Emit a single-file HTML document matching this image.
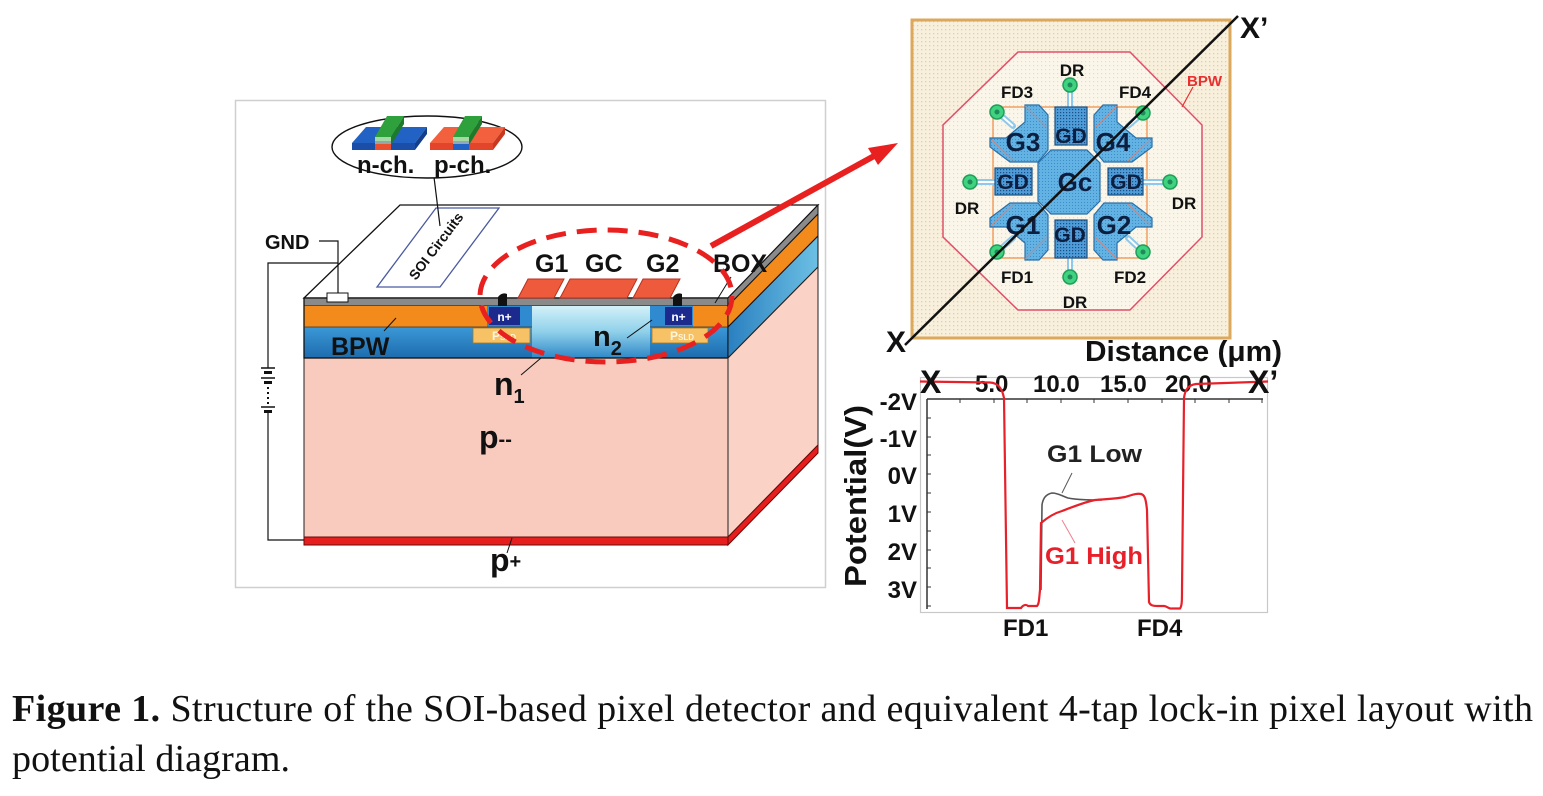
<!DOCTYPE html>
<html><head><meta charset="utf-8"><style>
html,body{margin:0;padding:0;background:#fff;}
svg{display:block;}
</style></head><body>
<svg width="1543" height="796" viewBox="0 0 1543 796" xmlns="http://www.w3.org/2000/svg" font-family="Liberation Sans, Arial, sans-serif">
<defs>
<pattern id="dots" width="4" height="4" patternUnits="userSpaceOnUse"><rect width="4" height="4" fill="#f8f0dc"/><rect x="1" y="1" width="1.3" height="1.3" fill="#e2cf9f"/></pattern>
<pattern id="dots2" width="4" height="4" patternUnits="userSpaceOnUse"><rect width="4" height="4" fill="#fbf6ea"/><rect x="1" y="1" width="1.2" height="1.2" fill="#eadcb8"/></pattern>
<pattern id="bdots" width="3" height="3" patternUnits="userSpaceOnUse"><rect width="3" height="3" fill="#62b2e4"/><rect x="1" y="1" width="1" height="1" fill="#3e8cc8"/></pattern>
<pattern id="gdots" width="3" height="3" patternUnits="userSpaceOnUse"><rect width="3" height="3" fill="#4e9cd8"/><rect x="1" y="1" width="1.2" height="1.2" fill="#1d4f86"/></pattern>
<linearGradient id="blueG" x1="0" y1="0" x2="0" y2="1"><stop offset="0" stop-color="#3b98d6"/><stop offset="1" stop-color="#1d6cae"/></linearGradient>
<linearGradient id="n2G" x1="0" y1="0" x2="0" y2="1"><stop offset="0" stop-color="#d2f1f8"/><stop offset="0.5" stop-color="#8fd0ea"/><stop offset="1" stop-color="#2f88c8"/></linearGradient>
<linearGradient id="sideBlue" x1="0" y1="0" x2="1" y2="0"><stop offset="0" stop-color="#2a80c0"/><stop offset="1" stop-color="#6cc0e4"/></linearGradient>
</defs>
<rect width="1543" height="796" fill="#fff"/>

<!-- ===== LEFT PANEL ===== -->
<rect x="235.5" y="100.5" width="590" height="487" fill="#fff" stroke="#cfcfcf" stroke-width="1.5"/>

<!-- top face -->
<polygon points="304,298 400,205 818,205 728,298" fill="#fff" stroke="#111" stroke-width="1.3"/>
<!-- SOI circuits -->
<polygon points="377,287 436,208 499,208 440,287" fill="none" stroke="#4a5aa0" stroke-width="1.3"/>
<text transform="translate(440,249) rotate(-53)" text-anchor="middle" font-size="14" font-weight="bold" fill="#111">SOI Circuits</text>
<line x1="434" y1="177" x2="440" y2="226" stroke="#111" stroke-width="1.2"/>

<!-- callout ellipse -->
<ellipse cx="427" cy="147" rx="95" ry="31" fill="#fff" stroke="#111" stroke-width="1.4"/>
<!-- n-ch icon -->
<polygon points="352,143 366,127 427,127 415,143" fill="#2262c4"/>
<rect x="352" y="143" width="63" height="7" fill="#1a4ea8"/>
<polygon points="415,143 427,127 427,134 415,150" fill="#123f8c"/>
<polygon points="375,137 387,116 404,116 391,137" fill="#2ea03c"/>
<polygon points="391,137 404,116 404,124 391,145" fill="#1c7a2a"/>
<rect x="375" y="137" width="16" height="4" fill="#a6d8a6"/>
<rect x="375" y="141" width="16" height="3" fill="#90a8a8"/>
<rect x="375" y="144" width="16" height="6" fill="#e8502e"/>
<!-- p-ch icon -->
<polygon points="430,143 444,127 505,127 493,143" fill="#f2603e"/>
<rect x="430" y="143" width="63" height="7" fill="#e2452a"/>
<polygon points="493,143 505,127 505,134 493,150" fill="#c8371e"/>
<polygon points="453,137 465,116 482,116 469,137" fill="#2ea03c"/>
<polygon points="469,137 482,116 482,124 469,145" fill="#1c7a2a"/>
<rect x="453" y="137" width="16" height="4" fill="#a6d8a6"/>
<rect x="453" y="141" width="16" height="3" fill="#90a8b8"/>
<rect x="453" y="144" width="16" height="6" fill="#2262c4"/>
<text x="357" y="173" font-size="24" font-weight="bold" fill="#111">n-ch.</text>
<text x="434" y="173" font-size="24" font-weight="bold" fill="#111">p-ch.</text>

<!-- front layers -->
<rect x="304" y="298" width="424" height="8" fill="#8a8a8a" stroke="#111" stroke-width="1"/>
<rect x="304" y="306" width="424" height="21" fill="#f28a1c"/>
<rect x="304" y="327" width="424" height="31" fill="url(#blueG)"/>
<rect x="532" y="306" width="118" height="52" fill="url(#n2G)"/>
<!-- n+ left -->
<rect x="487" y="306" width="45" height="21" fill="#2f8ad0"/>
<rect x="489" y="307" width="31" height="18" fill="#1b2a8c"/>
<text x="504.5" y="321" text-anchor="middle" font-size="12" font-weight="bold" fill="#fff">n+</text>
<!-- n+ right -->
<rect x="650" y="306" width="43" height="21" fill="#2f8ad0"/>
<rect x="665" y="307" width="27" height="18" fill="#1b2a8c"/>
<text x="678.5" y="321" text-anchor="middle" font-size="12" font-weight="bold" fill="#fff">n+</text>
<!-- Psld -->
<rect x="473" y="328" width="57" height="15" fill="#f7c266" stroke="#a07a30" stroke-width="0.8"/>
<text x="492" y="340" font-size="12" font-weight="bold" fill="#fff5d8">P<tspan font-size="8">SLD</tspan></text>
<rect x="652" y="328" width="56" height="15" fill="#f7c266" stroke="#a07a30" stroke-width="0.8"/>
<text x="670" y="340" font-size="12" font-weight="bold" fill="#fff5d8">P<tspan font-size="8">SLD</tspan></text>
<!-- pink body -->
<rect x="304" y="358" width="424" height="179" fill="#f9cbbf" stroke="#222" stroke-width="1"/>
<rect x="304" y="537" width="424" height="8" fill="#e61e1e" stroke="#6a0a0a" stroke-width="1"/>
<rect x="304" y="298" width="424" height="60" fill="none" stroke="#111" stroke-width="1.3"/>
<line x1="304" y1="327" x2="532" y2="327" stroke="#333" stroke-width="0.8"/>
<line x1="650" y1="327" x2="728" y2="327" stroke="#333" stroke-width="0.8"/>

<!-- side face -->
<polygon points="728,298 818,205 818,214 728,306" fill="#8a8a8a" stroke="#111" stroke-width="1"/>
<polygon points="728,306 818,214 818,236 728,327" fill="#f28a1c" stroke="#111" stroke-width="1"/>
<polygon points="728,327 818,236 818,267 728,358" fill="url(#sideBlue)" stroke="#111" stroke-width="1"/>
<polygon points="728,358 818,267 818,445 728,537" fill="#fad2c6" stroke="#222" stroke-width="1"/>
<polygon points="728,537 818,445 818,453 728,545" fill="#e61e1e" stroke="#6a0a0a" stroke-width="1"/>

<!-- contacts and gates -->
<path d="M498,306 L498,297 Q502,292 507,294 L507,306 Z" fill="#111"/>
<path d="M673,306 L673,297 Q677,292 682,294 L682,306 Z" fill="#111"/>
<polygon points="518,298 528,279 564,279 554,298" fill="#ee5a3c" stroke="#b83020" stroke-width="1"/>
<polygon points="560,298 570,279 637,279 627,298" fill="#ee5a3c" stroke="#b83020" stroke-width="1"/>
<polygon points="633,298 643,279 680,279 670,298" fill="#ee5a3c" stroke="#b83020" stroke-width="1"/>

<!-- wires / GND / battery -->
<text x="265" y="249" font-size="20" font-weight="bold" fill="#111">GND</text>
<polyline points="319,241 338,241 338,294" fill="none" stroke="#111" stroke-width="1.2"/>
<polyline points="338,263 268,263 268,368" fill="none" stroke="#111" stroke-width="1.2"/>
<rect x="327" y="293" width="21" height="9" fill="#fff" stroke="#111" stroke-width="1"/>
<line x1="261" y1="368" x2="275" y2="368" stroke="#111" stroke-width="1.5"/>
<rect x="264" y="371" width="8" height="3" fill="#111"/>
<line x1="261" y1="378" x2="275" y2="378" stroke="#111" stroke-width="1.5"/>
<rect x="264" y="381" width="8" height="3" fill="#111"/>
<line x1="268" y1="387" x2="268" y2="404" stroke="#111" stroke-width="2" stroke-dasharray="2 3"/>
<line x1="261" y1="407" x2="275" y2="407" stroke="#111" stroke-width="1.5"/>
<rect x="264" y="410" width="8" height="3" fill="#111"/>
<polyline points="268,413 268,540 304,540" fill="none" stroke="#111" stroke-width="1.2"/>

<!-- labels -->
<text x="535" y="272" font-size="25" font-weight="bold" fill="#111">G1</text>
<text x="585" y="272" font-size="25" font-weight="bold" fill="#111">GC</text>
<text x="646" y="272" font-size="25" font-weight="bold" fill="#111">G2</text>
<text x="713" y="272" font-size="25" font-weight="bold" fill="#111">BOX</text>
<line x1="731" y1="277" x2="715" y2="303" stroke="#111" stroke-width="1"/>
<text x="331" y="355" font-size="25" font-weight="bold" fill="#111">BPW</text>
<line x1="396" y1="318" x2="384" y2="331" stroke="#111" stroke-width="1"/>
<text x="593" y="346" font-size="29" font-weight="bold" fill="#111">n<tspan font-size="20" dy="9">2</tspan></text>
<line x1="627" y1="338" x2="652" y2="320" stroke="#111" stroke-width="1"/>
<text x="494" y="395" font-size="32" font-weight="bold" fill="#111">n<tspan font-size="20" dy="8">1</tspan></text>
<line x1="541" y1="358" x2="521" y2="375" stroke="#111" stroke-width="1"/>
<text x="479" y="448" font-size="32" font-weight="bold" fill="#111">p<tspan font-size="20" dy="-2">--</tspan></text>
<text x="490" y="571" font-size="32" font-weight="bold" fill="#111">p<tspan font-size="20" dy="-3">+</tspan></text>
<line x1="512" y1="538" x2="507" y2="553" stroke="#111" stroke-width="1"/>

<!-- dashed ellipse + arrow -->
<ellipse cx="606" cy="296" rx="126" ry="66" fill="none" stroke="#e82020" stroke-width="5" stroke-dasharray="20 11"/>
<line x1="711" y1="246" x2="875" y2="155.5" stroke="#e82020" stroke-width="6"/>
<polygon points="898,143 878,165 868,148" fill="#e82020"/>

<!-- ===== LAYOUT ===== -->
<rect x="912" y="20" width="318" height="318" fill="url(#dots)" stroke="#dca85c" stroke-width="3"/>
<polygon points="1018,52 1130,52 1202,125 1202,237 1130,310 1018,310 943,237 943,125" fill="url(#dots2)" stroke="#e0506a" stroke-width="1.5"/>
<rect x="993" y="107" width="154" height="151" fill="none" stroke="#f08a40" stroke-width="1.2"/>
<text x="1187" y="86" font-size="15" font-weight="bold" fill="#e83030">BPW</text>
<line x1="1193" y1="87" x2="1182" y2="107" stroke="#e83030" stroke-width="1.2"/>
<!-- connectors -->
<g stroke="#8ec8ea" stroke-width="6" stroke-linecap="round">
<line x1="1070" y1="85" x2="1070" y2="108"/><line x1="997" y1="112" x2="1013" y2="126"/><line x1="1143" y1="113" x2="1128" y2="126"/>
<line x1="970" y1="182" x2="996" y2="182"/><line x1="1170" y1="182" x2="1142" y2="182"/>
<line x1="997" y1="252" x2="1013" y2="238"/><line x1="1143" y1="252" x2="1128" y2="238"/><line x1="1070" y1="277" x2="1070" y2="257"/>
</g>
<g stroke="#ffffff" stroke-width="2">
<line x1="1070" y1="85" x2="1070" y2="108"/><line x1="997" y1="112" x2="1013" y2="126"/><line x1="1143" y1="113" x2="1128" y2="126"/>
<line x1="970" y1="182" x2="996" y2="182"/><line x1="1170" y1="182" x2="1142" y2="182"/>
<line x1="997" y1="252" x2="1013" y2="238"/><line x1="1143" y1="252" x2="1128" y2="238"/><line x1="1070" y1="277" x2="1070" y2="257"/>
</g>
<!-- contacts -->
<g fill="#3fd27f" stroke="#1e9e5a" stroke-width="1.5">
<circle cx="1070" cy="85" r="7"/><circle cx="997" cy="112" r="7"/><circle cx="1143" cy="113" r="7"/>
<circle cx="970" cy="182" r="7"/><circle cx="1170" cy="182" r="7"/>
<circle cx="997" cy="252" r="7"/><circle cx="1143" cy="252" r="7"/><circle cx="1070" cy="277" r="7"/>
</g>
<g fill="#1f8a5a">
<circle cx="1070" cy="85" r="2.5"/><circle cx="997" cy="112" r="2.5"/><circle cx="1143" cy="113" r="2.5"/>
<circle cx="970" cy="182" r="2.5"/><circle cx="1170" cy="182" r="2.5"/>
<circle cx="997" cy="252" r="2.5"/><circle cx="1143" cy="252" r="2.5"/><circle cx="1070" cy="277" r="2.5"/>
</g>
<!-- gates -->
<g fill="url(#bdots)" stroke="#2a70a8" stroke-width="1.2">
<polygon points="1025,105 1039,105 1048,115 1048,150 1038,162 1010,162 990,147 990,138 1006,138 1025,122"/>
<polygon points="1117,105 1103,105 1094,115 1094,150 1104,162 1132,162 1152,147 1152,138 1136,138 1117,122"/>
<polygon points="1025,260 1039,260 1048,250 1048,215 1038,203 1010,203 990,218 990,227 1006,227 1025,243"/>
<polygon points="1117,260 1103,260 1094,250 1094,215 1104,203 1132,203 1152,218 1152,227 1136,227 1117,243"/>
<polygon points="1051,150 1087,150 1100,163 1100,201 1087,214 1051,214 1038,201 1038,163"/>
</g>
<g stroke="#e08070" stroke-width="1" opacity="0.8">
<line x1="1025" y1="106" x2="1047" y2="128"/><line x1="992" y1="140" x2="1014" y2="161"/>
<line x1="1117" y1="106" x2="1095" y2="128"/><line x1="1150" y1="140" x2="1128" y2="161"/>
<line x1="992" y1="225" x2="1014" y2="204"/><line x1="1025" y1="259" x2="1047" y2="237"/>
<line x1="1150" y1="225" x2="1128" y2="204"/><line x1="1117" y1="259" x2="1095" y2="237"/>
</g>
<g fill="url(#gdots)" stroke="#1a4f80" stroke-width="1.2">
<rect x="1055" y="107" width="32" height="38"/><rect x="1055" y="220" width="32" height="38"/>
<rect x="995" y="168" width="37" height="27"/><rect x="1108" y="168" width="35" height="27"/>
</g>
<g font-weight="bold" fill="#0d1f40" text-anchor="middle">
<text x="1023" y="151" font-size="26">G3</text>
<text x="1071" y="143" font-size="21">GD</text>
<text x="1113" y="151" font-size="26">G4</text>
<text x="1013" y="189" font-size="21">GD</text>
<text x="1075" y="191" font-size="26">Gc</text>
<text x="1126" y="189" font-size="21">GD</text>
<text x="1023" y="234" font-size="26">G1</text>
<text x="1070" y="242" font-size="21">GD</text>
<text x="1114" y="234" font-size="26">G2</text>
</g>
<g font-weight="bold" fill="#111" text-anchor="middle" font-size="17">
<text x="1072" y="76">DR</text>
<text x="1017" y="98">FD3</text>
<text x="1135" y="98">FD4</text>
<text x="967" y="214">DR</text>
<text x="1184" y="209">DR</text>
<text x="1017" y="283">FD1</text>
<text x="1130" y="283">FD2</text>
<text x="1075" y="308">DR</text>
</g>
<line x1="905" y1="345" x2="1238" y2="16" stroke="#111" stroke-width="2.5"/>
<text x="886" y="352" font-size="30" font-weight="bold" fill="#111">X</text>
<text x="1240" y="38" font-size="30" font-weight="bold" fill="#111">X’</text>

<!-- ===== GRAPH ===== -->
<text x="1085" y="361" font-size="29" font-weight="bold" fill="#111" textLength="197" lengthAdjust="spacingAndGlyphs">Distance (μm)</text>
<rect x="920.5" y="377.5" width="347" height="235" fill="#fff" stroke="#c8c8c8" stroke-width="1.2"/>
<line x1="927" y1="399" x2="1263" y2="399" stroke="#333" stroke-width="1.5"/>
<line x1="927" y1="399" x2="927" y2="609" stroke="#333" stroke-width="1.5"/>
<g stroke="#333" stroke-width="1">
<line x1="927" y1="418" x2="931" y2="418"/><line x1="927" y1="437" x2="931" y2="437"/><line x1="927" y1="455" x2="931" y2="455"/>
<line x1="927" y1="474" x2="931" y2="474"/><line x1="927" y1="493" x2="931" y2="493"/><line x1="927" y1="512" x2="931" y2="512"/>
<line x1="927" y1="531" x2="931" y2="531"/><line x1="927" y1="550" x2="931" y2="550"/><line x1="927" y1="568" x2="931" y2="568"/>
<line x1="927" y1="587" x2="931" y2="587"/><line x1="927" y1="606" x2="931" y2="606"/>
<line x1="960" y1="399" x2="960" y2="403"/><line x1="994" y1="399" x2="994" y2="403"/><line x1="1027" y1="399" x2="1027" y2="403"/>
<line x1="1061" y1="399" x2="1061" y2="403"/><line x1="1094" y1="399" x2="1094" y2="403"/><line x1="1128" y1="399" x2="1128" y2="403"/>
<line x1="1162" y1="399" x2="1162" y2="403"/><line x1="1195" y1="399" x2="1195" y2="403"/><line x1="1229" y1="399" x2="1229" y2="403"/>
<line x1="1262" y1="399" x2="1262" y2="403"/>
</g>
<g font-size="24" font-weight="bold" fill="#111" text-anchor="end">
<text x="917" y="410">-2V</text><text x="917" y="447">-1V</text><text x="917" y="484">0V</text>
<text x="917" y="522">1V</text><text x="917" y="560">2V</text><text x="917" y="598">3V</text>
</g>
<text transform="translate(866,496) rotate(-90)" text-anchor="middle" font-size="31" font-weight="bold" fill="#111" textLength="182" lengthAdjust="spacingAndGlyphs">Potential(V)</text>
<g font-size="24" font-weight="bold" fill="#111">
<text x="975" y="392">5.0</text><text x="1033" y="392">10.0</text><text x="1100" y="392">15.0</text><text x="1165" y="392">20.0</text>
</g>
<path d="M1041,590 L1042,505 C1043,497 1047,494 1052,493 C1058,493 1062,496 1068,498 C1078,500 1090,500 1102,500" fill="none" stroke="#555" stroke-width="1.6"/>
<path d="M920,381.5 L990,382.5 C998,383 1002,388 1004,398 L1007,608 L1021,608 C1023,605 1026,604 1028,606 L1037,606 C1039,604 1039,600 1040,590 L1041,523 C1048,517 1055,513 1062,511 C1075,506 1085,502 1095,500 C1105,499 1115,499 1125,497 C1132,495 1137,493 1141,494 C1145,495 1146,500 1147,510 L1149,602 C1150,605 1152,606 1158,606 L1164,606 C1167,606 1168,609 1172,608.5 L1180,608.5 C1182,606 1182,600 1182,590 L1184,398 C1185,390 1188,385 1196,384 L1268,381.5" fill="none" stroke="#e8202a" stroke-width="2.2"/>
<text x="920" y="393" font-size="32" font-weight="bold" fill="#111">X</text>
<text x="1248" y="393" font-size="32" font-weight="bold" fill="#111">X’</text>
<line x1="1072" y1="473" x2="1062" y2="493" stroke="#555" stroke-width="1"/>
<line x1="1062" y1="520" x2="1075" y2="543" stroke="#f08090" stroke-width="1"/>
<text x="1047" y="462" font-size="24" font-weight="bold" fill="#222" textLength="95" lengthAdjust="spacingAndGlyphs">G1 Low</text>
<text x="1045" y="564" font-size="24" font-weight="bold" fill="#e8202a" textLength="98" lengthAdjust="spacingAndGlyphs">G1 High</text>
<text x="1003" y="636" font-size="24" font-weight="bold" fill="#111">FD1</text>
<text x="1137" y="636" font-size="24" font-weight="bold" fill="#111">FD4</text>

<!-- ===== CAPTION ===== -->
<text x="12" y="721" font-family="Liberation Serif, serif" font-size="38" fill="#111" textLength="1521" lengthAdjust="spacing"><tspan font-weight="bold">Figure 1.</tspan> Structure of the SOI-based pixel detector and equivalent 4-tap lock-in pixel layout with</text>
<text x="12" y="771" font-family="Liberation Serif, serif" font-size="38" fill="#111" textLength="278" lengthAdjust="spacing">potential diagram.</text>
</svg>
</body></html>
